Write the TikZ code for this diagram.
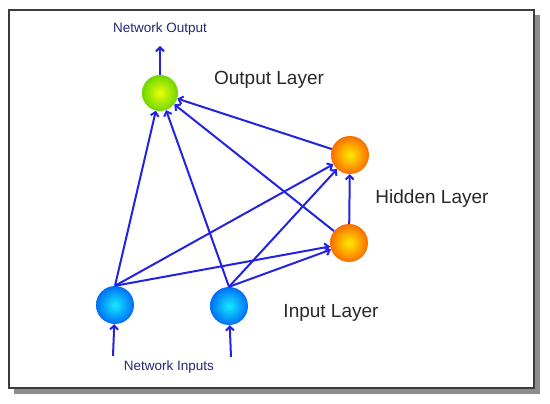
\documentclass[tikz,border=0pt]{standalone}
\usepackage{fontspec}
\setmainfont{Liberation Sans}
\usepackage{xcolor}
\usetikzlibrary{arrows.meta}
\definecolor{EdgeBlue}{RGB}{35,35,225}
\definecolor{FrameGray}{RGB}{60,60,60}
\definecolor{ShadowGray}{RGB}{140,140,140}
\definecolor{LabelGray}{RGB}{40,40,40}
\definecolor{NavyText}{RGB}{40,40,115}
\definecolor{GreenIn}{RGB}{235,255,10}
\definecolor{GreenOut}{RGB}{110,215,0}
\definecolor{OrangeIn}{RGB}{255,235,0}
\definecolor{OrangeOut}{RGB}{250,110,0}
\definecolor{BlueIn}{RGB}{20,235,255}
\definecolor{BlueOut}{RGB}{0,110,245}
\newcommand\labout{Output Layer}
\newcommand\labhid{Hidden Layer}
\newcommand\labin{Input Layer}
\tikzstyle{neuron} = [circle, minimum size=38pt, inner sep=0pt]
\tikzstyle{gn} = [neuron, minimum size=36pt, inner color=GreenIn, outer color=GreenOut]
\tikzstyle{on} = [neuron, inner color=OrangeIn, outer color=OrangeOut]
\tikzstyle{bn} = [neuron, inner color=BlueIn, outer color=BlueOut]
\tikzstyle{layer} = [text=LabelGray, font=\fontsize{19}{22}\selectfont]
\tikzstyle{netlab} = [text=NavyText, font=\fontsize{13.5}{16}\selectfont]
\tikzstyle{edge} = [->, EdgeBlue, line width=2pt]
\tikzset{>={Straight Barb[length=4pt, width=8pt]}}

\begin{document}
\begin{tikzpicture}[x=1pt, y=-1pt]
\useasboundingbox (0,0) rectangle (550,404);
\fill[ShadowGray] (14,15) rectangle (540,394);
\draw[FrameGray, line width=2pt, fill=white] (9,10) rectangle (534,388);
\node[gn] (out) at (160, 93) {};
\node[on] (hid1) at (350, 155) {};
\node[on] (hid2) at (349, 243) {};
\node[bn] (in1) at (115, 305) {};
\node[bn] (in2) at (229, 306) {};
\node[netlab] (nout) at (160, 29) {Network Output};
\node[netlab] (nin) at (169, 367) {Network Inputs};
\node[layer] (lout) at (269, 80) {\labout};
\node[layer] (lhid) at (432, 199) {\labhid};
\node[layer] (lin) at (331, 313) {\labin};
\coordinate (x1) at (113, 356);
\coordinate (x2) at (231, 357);
\coordinate (y) at (160, 46);
\draw [edge] (out) -- (y);
\draw [edge] (x1) -- (in1);
\draw [edge] (x2) -- (in2);
\draw [edge] (in1.north) -- (out);
\draw [edge] (in1.north) -- (hid1);
\draw [edge] (in1.north) -- (hid2);
\draw [edge] (in2.north) -- (out);
\draw [edge] (in2.north) -- (hid1);
\draw [edge] (in2.north) -- (hid2);
\draw [edge] (hid2) -- (out);
\draw [edge] (hid1) -- (out);
\draw [edge] (hid2) -- (hid1);
\end{tikzpicture}
\end{document}
